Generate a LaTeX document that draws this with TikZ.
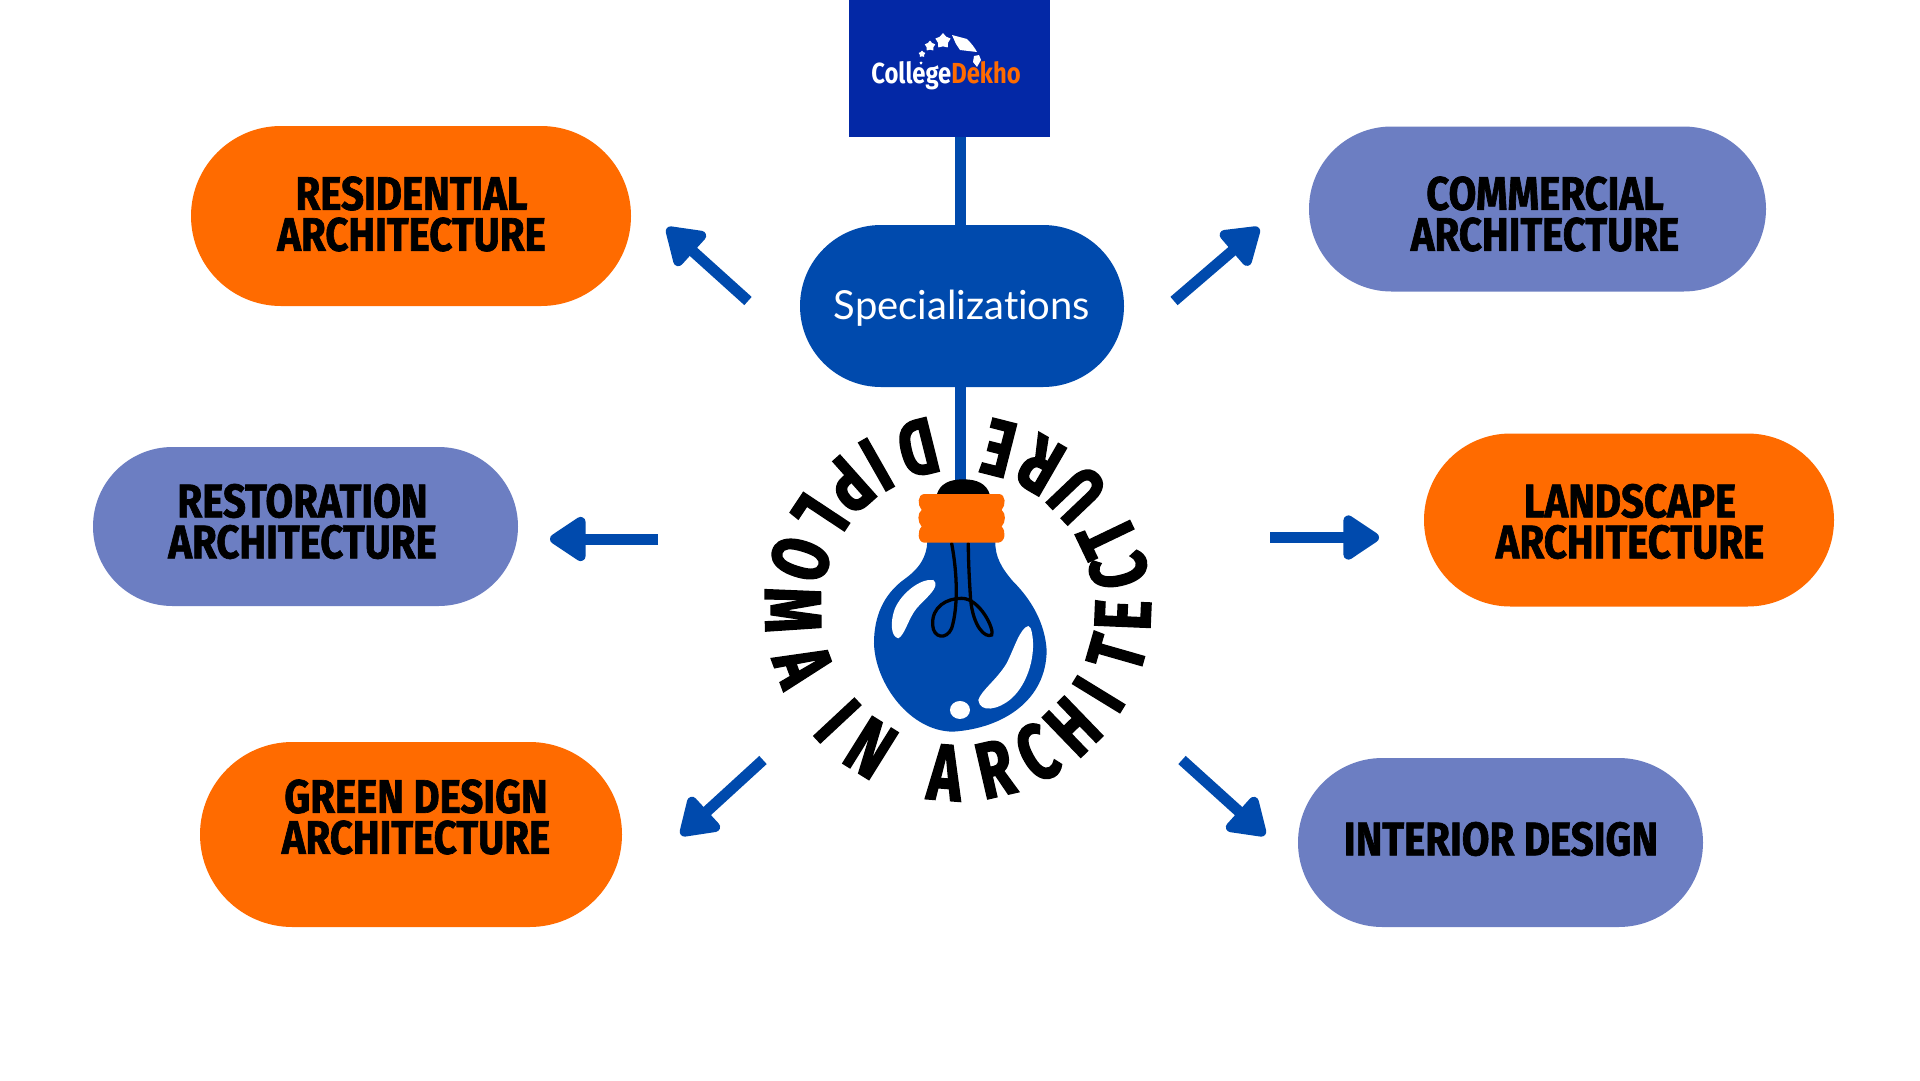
\documentclass[tikz,border=0pt]{standalone}
\usepackage{fontspec}
\usepackage{tikz}
\usetikzlibrary{shapes.misc,shapes.geometric,arrows.meta}

\setmainfont[Ligatures=NoCommon]{Lato}
\newfontfamily\pillfont[FakeStretch=0.855,FakeBold=1.4]{Fira Sans Bold}
\newfontfamily\ringfont[FakeStretch=0.72,FakeBold=1.8]{Fira Sans Bold}
\newfontfamily\logofont[FakeStretch=0.82]{Fira Sans Bold}

\definecolor{archorange}{HTML}{FF6B00}
\definecolor{archviolet}{HTML}{6C7EC2}
\definecolor{archblue}{HTML}{004AAD}
\definecolor{logoblue}{HTML}{0328A6}

\tikzset{
    pill/.style={shape=rounded rectangle,inner sep=0pt,fill=#1},
    pilltext/.style={font=\pillfont\fontsize{47}{41}\selectfont,align=center,text=black,inner sep=0pt},
    specline/.style={draw=archblue,line width=11pt},
    specarrow/.style={draw=archblue,line width=11pt,-{Triangle[round,length=40pt,width=50pt]}},
}

\begin{document}
\begin{tikzpicture}[x=1pt,y=-1pt]
    \useasboundingbox[fill=white] (0,0) rectangle (1920,1080);

    % Logo
    \node[fill=logoblue,minimum width=201pt,minimum height=137pt,inner sep=0pt] (logo) at (949.5,68.5) {};
    \node[font=\logofont\fontsize{29}{29}\selectfont,inner sep=0pt,text=white] (logoname) at (946,76)
        {College\textcolor{archorange}{Dekho}};
    \foreach \x/\y/\r in {943/41/8, 930/46/5.5, 922/54/3.5, 921/63/1.6}
        \node[star,star points=5,fill=white,minimum size=2*\r pt,inner sep=0pt] (logostar\x) at (\x,\y) {};
    \fill[white] (952,35) -- (967,39) .. controls (971,43) and (975,48) .. (977,52)
        -- (960,50) -- (956,44) -- cycle;
    \fill[white] (974,56) -- (979,55) -- (981,60) -- (977,67) -- (973,62) -- cycle;

    % Specializations
    \node[pill=archblue,minimum width=324pt,minimum height=162pt,text=white,
          font=\fontsize{40}{40}\selectfont] (spec) at (962,306) {\raisebox{-2.5pt}[\height][\depth]{Specializations}};
    \coordinate (bulbtop) at (960.5,482);
    \draw[specline] (logo.south -| bulbtop) -- (spec.north -| bulbtop);
    \draw[specline] (spec.south -| bulbtop) -- (bulbtop);

    % Pills
    \node[pill=archorange,minimum width=440pt,minimum height=180pt] (residential) at (411,216) {};
    \node[pilltext] (residentialname) at (411.5,214) {RESIDENTIAL\\ARCHITECTURE};
    \node[pill=archviolet,minimum width=457pt,minimum height=165pt] (commercial) at (1537.5,209) {};
    \node[pilltext] (commercialname) at (1545,214) {COMMERCIAL\\ARCHITECTURE};
    \node[pill=archviolet,minimum width=425pt,minimum height=159pt] (restoration) at (305.5,526.5) {};
    \node[pilltext] (restorationname) at (302.5,521.5) {RESTORATION\\ARCHITECTURE};
    \node[pill=archorange,minimum width=410pt,minimum height=173pt] (landscape) at (1629,520) {};
    \node[pilltext] (landscapename) at (1630,521.5) {LANDSCAPE\\ARCHITECTURE};
    \node[pill=archorange,minimum width=422pt,minimum height=185pt] (green) at (411,834.5) {};
    \node[pilltext] (greenname) at (416,817) {GREEN DESIGN\\ARCHITECTURE};
    \node[pill=archviolet,minimum width=405pt,minimum height=169pt] (interior) at (1500.5,842.5) {};
    \node[pilltext] (interiorname) at (1501,839) {INTERIOR DESIGN};

    % Arrows
    \foreach \nm/\xa/\ya/\xb/\yb in {
        nw/748/301/667/228, ne/1174/301/1259/228,
        w/658/539/550/539,  e/1270/537.5/1379/537.5,
        sw/763/760/681/835, se/1182/760/1265/835}
    {
        \coordinate (\nm tail) at (\xa,\ya);
        \coordinate (\nm tip) at (\xb,\yb);
        \draw[specarrow] (\nm tail) -- (\nm tip);
    }

    % Ring of letters
    \foreach \a/\ch [count=\i] in {
        104/D, 119.6/I, 131.7/P, 146.5/L, 162.7/O, 180.7/M, 200.4/A,
        223/I, 238/N,
        265.5/A, 283/R, 298.6/C, 314/H, 328.5/I, 344/T, 357.6/E,
        13/C, 25.6/T, 43.6/U, 60/R, 75.7/E}
    {
        \node[font=\ringfont\fontsize{80}{80}\selectfont,inner sep=0pt,rotate=\a+90] (ring\i)
            at ({958+165*cos(\a)},{608-165*sin(\a)}) {\ch};
    }

    % Bulb
    \begin{scope}[shift={(720,400)},x=0.3333pt,y=-0.3333pt]
        \fill[archblue] (622,425) .. controls (620,470) and (600,505) .. (550,540)
            .. controls (490,585) and (462,650) .. (462,730)
            .. controls (465,850) and (570,995) .. (700,995)
            .. controls (850,985) and (980,900) .. (980,750)
            .. controls (975,670) and (935,600) .. (880,545)
            .. controls (845,505) and (825,470) .. (826,425) -- cycle;
        \draw[black,line width=3.3pt,line cap=round] (695,430) .. controls (712,520) and (715,620) .. (695,685)
            .. controls (680,720) and (640,715) .. (638,675)
            .. controls (635,620) and (680,595) .. (725,595)
            .. controls (780,595) and (825,690) .. (815,705)
            .. controls (795,715) and (760,680) .. (752,600)
            .. controls (748,540) and (745,480) .. (745,430);
        \fill[white] (640,540) .. controls (600,535) and (545,580) .. (525,625)
            .. controls (510,665) and (512,710) .. (535,715)
            .. controls (555,705) and (565,655) .. (590,625)
            .. controls (615,595) and (665,560) .. (640,540) -- cycle;
        \fill[white] (925,678) .. controls (900,685) and (885,740) .. (860,790)
            .. controls (830,840) and (785,870) .. (775,900)
            .. controls (780,940) and (835,930) .. (875,895)
            .. controls (925,850) and (950,760) .. (935,695)
            .. controls (933,685) and (930,680) .. (925,678) -- cycle;
        \fill[white] (720,930) ellipse [x radius=30,y radius=27];
        \fill[black] (650,285) .. controls (660,250) and (690,238) .. (730,238)
            .. controls (770,238) and (800,250) .. (810,285) -- cycle;
        \fill[archorange] (612,282) -- (838,282) .. controls (858,285) and (858,315) .. (845,330)
            .. controls (858,340) and (858,365) .. (845,380)
            .. controls (858,392) and (858,425) .. (835,428) -- (612,428)
            .. controls (592,425) and (592,392) .. (605,380)
            .. controls (592,365) and (592,340) .. (605,330)
            .. controls (592,315) and (592,285) .. (612,282) -- cycle;
    \end{scope}
\end{tikzpicture}
\end{document}
